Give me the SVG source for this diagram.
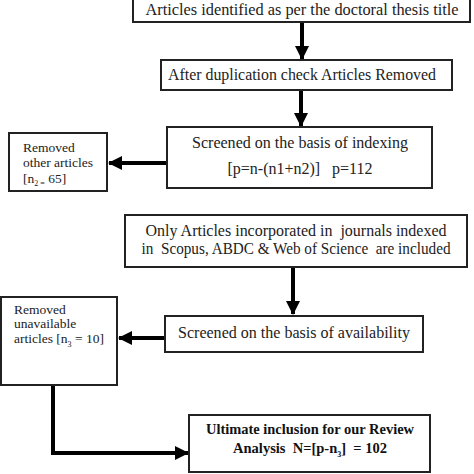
<svg xmlns="http://www.w3.org/2000/svg" width="474" height="474" viewBox="0 0 474 474">
<defs>
<style>
.box{fill:#fff;stroke:#222;stroke-width:2}
.t{font-family:"Liberation Serif","DejaVu Serif",serif;font-size:16px;fill:#222;text-anchor:middle}
.s{font-family:"Liberation Serif","DejaVu Serif",serif;font-size:13.5px;fill:#222}
.b{font-family:"Liberation Serif","DejaVu Serif",serif;font-size:14.5px;font-weight:bold;fill:#111;text-anchor:middle}
.sub{font-size:8px}
.c{fill:none;stroke:#000;stroke-width:4}
</style>
<marker id="ah" markerUnits="userSpaceOnUse" markerWidth="14" markerHeight="14" viewBox="0 0 14 14" refX="13" refY="7" orient="auto">
<path d="M0,0 L14,7 L0,14 Z" fill="#000"/>
</marker>
</defs>
<rect width="474" height="474" fill="#fff"/>
<g id="connectors">
<line class="c" x1="302" y1="23" x2="302" y2="59" marker-end="url(#ah)"/>
<line class="c" x1="301" y1="91" x2="301" y2="126" marker-end="url(#ah)"/>
<line class="c" x1="166" y1="163" x2="109" y2="163" marker-end="url(#ah)"/>
<line class="c" x1="293" y1="268" x2="293" y2="314" marker-end="url(#ah)"/>
<line class="c" x1="164" y1="338" x2="119" y2="338" marker-end="url(#ah)"/>
<polyline class="c" points="53,386 53,453 188,453" marker-end="url(#ah)"/>
</g>
<g id="n1">
<rect class="box" x="133" y="-4" width="337" height="26"/>
<text class="t" x="302" y="15" textLength="313" lengthAdjust="spacingAndGlyphs">Articles identified as per the doctoral thesis title</text>
</g>
<g id="n2">
<rect class="box" x="161" y="60" width="291" height="30"/>
<text class="t" x="302" y="80" textLength="268" lengthAdjust="spacingAndGlyphs">After duplication check Articles Removed</text>
</g>
<g id="n3">
<rect class="box" x="167" y="127" width="265" height="61"/>
<text class="t" x="300" y="148" textLength="216" lengthAdjust="spacingAndGlyphs">Screened on the basis of indexing</text>
<text class="t" x="300" y="174" xml:space="preserve" textLength="145" lengthAdjust="spacingAndGlyphs">[p=n-(n1+n2)]   p=112</text>
</g>
<g id="n4">
<rect class="box" x="9" y="133" width="98" height="58"/>
<text class="s" x="23" y="152">Removed</text>
<text class="s" x="23" y="167">other articles</text>
<text class="s" x="23" y="183">[n<tspan class="sub" dy="3">2 =</tspan><tspan dy="-3"> 65]</tspan></text>
</g>
<g id="n5">
<rect class="box" x="125" y="215" width="342" height="52"/>
<text class="t" x="296" y="236" xml:space="preserve" textLength="301" lengthAdjust="spacingAndGlyphs">Only Articles incorporated in  journals indexed</text>
<text class="t" x="296" y="254" xml:space="preserve" textLength="309" lengthAdjust="spacingAndGlyphs">in  Scopus, ABDC &amp; Web of Science  are included</text>
</g>
<g id="n6">
<rect class="box" x="165" y="316" width="258" height="36"/>
<text class="t" x="294" y="338" textLength="232" lengthAdjust="spacingAndGlyphs">Screened on the basis of availability</text>
</g>
<g id="n7">
<rect class="box" x="1" y="297" width="116" height="88"/>
<text class="s" x="14" y="314">Removed</text>
<text class="s" x="14" y="328">unavailable</text>
<text class="s" x="14" y="343" xml:space="preserve">articles [n<tspan class="sub" dy="4">3</tspan><tspan dy="-4"> = 10]</tspan></text>
</g>
<g id="n8">
<rect class="box" x="189" y="415" width="241" height="57"/>
<text class="b" x="310" y="434" textLength="208" lengthAdjust="spacingAndGlyphs">Ultimate inclusion for our Review</text>
<text class="b" x="310" y="453" xml:space="preserve">Analysis  N=[p-n<tspan class="sub" dy="4">3</tspan><tspan dy="-4">]  = 102</tspan></text>
</g>
</svg>
